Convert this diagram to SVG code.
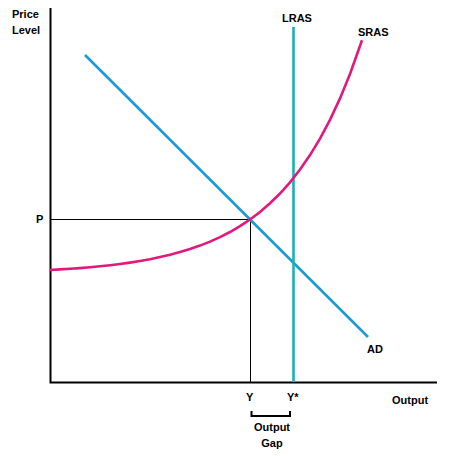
<svg xmlns="http://www.w3.org/2000/svg" width="450" height="456" viewBox="0 0 450 456">
<style>
.t{font-family:"Liberation Sans",Arial,sans-serif;font-weight:bold;font-size:11px;fill:#000}
.c{fill:none;stroke-width:2.6}
</style>
<rect width="450" height="456" fill="#fff"/>
<g id="axes">
<path d="M50.5,8 V382.5 H437" fill="none" stroke="#000" stroke-width="2"/>
<text class="t" x="12" y="18">Price</text>
<text class="t" x="12" y="34">Level</text>
<text class="t" x="392" y="404">Output</text>
</g>
<g id="connectors">
<path d="M50.5,219.5 H250.5 V382" fill="none" stroke="#000" stroke-width="1"/>
<path d="M251.5,411 V416 H290 V411" fill="none" stroke="#000" stroke-width="2"/>
</g>
<g id="AD">
<line class="c" x1="85" y1="55" x2="368" y2="337" stroke="#1c9ad6"/>
<text class="t" x="367" y="353">AD</text>
</g>
<g id="LRAS">
<line class="c" x1="293.5" y1="27" x2="293.5" y2="382" stroke="#1ab0b5"/>
<text class="t" x="282" y="22">LRAS</text>
</g>
<g id="SRAS">
<polyline class="c" stroke="#e2197c" points="50,270 60,269.4 70,268.8 80,268.1 90,267.2 100,266.3 110,265.2 120,264 130,262.6 140,261 150,259.2 160,257.1 170,254.8 180,252.1 190,249.1 200,245.6 210,241.6 220,237.1 230,232 240,226.2 250,219.5 260,212 270,203.3 280,193.5 290,182.3 300,169.6 310,155.1 320,138.6 330,119.8 340,98.4 350,74 362,40.2"/>
<text class="t" x="358" y="36">SRAS</text>
</g>
<g id="labels">
<text class="t" x="36" y="223">P</text>
<text class="t" x="246" y="401">Y</text>
<text class="t" x="287" y="401">Y*</text>
<text class="t" x="272" y="431" text-anchor="middle">Output</text>
<text class="t" x="272" y="447" text-anchor="middle">Gap</text>
</g>
</svg>
